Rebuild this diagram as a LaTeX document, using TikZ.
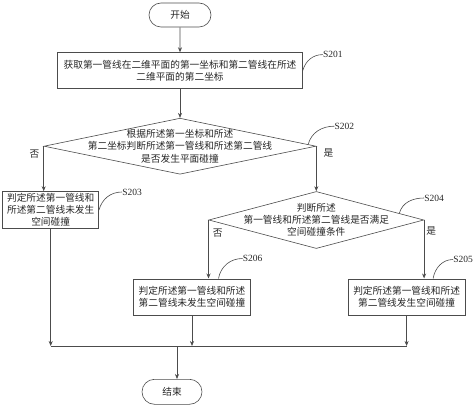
\documentclass[tikz,border=0pt]{standalone}
\usepackage{fontspec}
\setmainfont{Liberation Serif}
\newfontfamily\cjk{Noto Sans CJK SC}
\usetikzlibrary{arrows.meta, positioning, shapes.misc, shapes.geometric, calc}
\tikzset{%
	term/.style={draw=black!70, rounded rectangle, minimum width=62pt, minimum height=24pt,%
		inner sep=0pt, text=black!85, font=\cjk\fontsize{9.7}{12}\selectfont},
	proc/.style={draw=black!70, rectangle, align=center, inner sep=0pt,%
		text=black!85, font=\cjk\fontsize{9.7}{12}\selectfont},
	cond/.style={draw=black!70, diamond, inner sep=0pt},
	dtext/.style={align=center, inner sep=0pt, text=black!85, font=\cjk\fontsize{9.7}{12.3}\selectfont},
	yn/.style={inner sep=1pt, text=black!85, font=\cjk\fontsize{9.7}{12}\selectfont},
	tag/.style={inner sep=0pt, anchor=west, text=black!85, font=\fontsize{9.5}{11}\selectfont},
	tagline/.style={black!70, line width=0.6pt},
	arr/.style={-{Stealth[length=5pt,width=4pt]}, black!70, line width=0.6pt},
	connector/.style={black!70, line width=0.6pt}
}
\begin{document}
\begin{tikzpicture}[line width=0.6pt]
	\useasboundingbox (0,0) rectangle (474pt,-406pt);

	\node[term] (start) at (180pt,-15pt) {开始};
	\node[proc, minimum width=245pt, minimum height=36pt] (s201) [below=25pt of start]
		{获取第一管线在二维平面的第一坐标和第二管线在所述\\二维平面的第二坐标};
	\node[cond, minimum width=272pt, minimum height=56pt,%
		label={[dtext]center:根据所述第一坐标和所述\\第二坐标判断所述第一管线和所述第二管线\\是否发生平面碰撞}]
		(s202) [below=29pt of s201] {};
	\node[proc, minimum width=96pt, minimum height=37pt, xshift=7pt] (s203) [below=45pt of s202.west]
		{判定所述第一管线和\\所述第二管线未发生\\空间碰撞};
	\node[cond, minimum width=215pt, minimum height=57pt,%
		label={[dtext]center:判断所述\\第一管线和所述第二管线是否满足\\空间碰撞条件}]
		(s204) [below=45pt of s202.east] {};
	\node[proc, minimum width=117pt, minimum height=36pt, xshift=-16.5pt] (s206) [below=58.5pt of s204.west]
		{判定所述第一管线和所述\\第二管线未发生空间碰撞};
	\node[proc, minimum width=117pt, minimum height=36pt, xshift=-17.5pt] (s205) [below=58.5pt of s204.east]
		{判定所述第一管线和所述\\第二管线发生空间碰撞};
	\coordinate (mrg) at (177pt,-346pt);
	\node[term, minimum width=60pt, minimum height=25pt, xshift=-5pt] (end) [below=33pt of mrg] {结束};

	% yes / no
	\node[yn] (n202) [below left=2pt and 3pt of s202.west] {否};
	\node[yn] (y202) [below right=1pt and 6pt of s202.east] {是};
	\node[yn] (n204) [below right=7.5pt and 3pt of s204.west] {否};
	\node[yn] (y204) [below right=5.5pt and 1pt of s204.east] {是};

	% step tags
	\node[tag] (l201) at ($(s201.east)+(20pt,16pt)$) {S201};
	\node[tag] (l202) at ($(s202.east)+(18pt,20pt)$) {S202};
	\node[tag] (l203) at ($(s203.east)+(23pt,18pt)$) {S203};
	\node[tag] (l204) at ($(s204.east)+(0pt,22pt)$) {S204};
	\node[tag] (l206) at ($(s206.north)+(50.5pt,20pt)$) {S206};
	\node[tag] (l205) at ($(s205.north)+(46.5pt,19pt)$) {S205};

	\draw [tagline] (s201.east) to[out=75, in=180] (l201.west);
	\draw [tagline] ($(s202.east)!0.06!(s202.north)$) to[out=75, in=180] (l202.west);
	\draw [tagline] (s203.east) to[out=75, in=180] (l203.west);
	\draw [tagline] ($(s204.east)!0.23!(s204.north)$) to[out=75, in=180] (l204.west);
	\draw [tagline] ($(s206.north)+(26.5pt,0)$) to[out=80, in=180] (l206.west);
	\draw [tagline] ($(s205.north)+(26.5pt,0)$) to[out=80, in=180] (l205.west);

	% flow
	\draw [arr] (start) -- (s201);
	\draw [arr] (s201) -- (s202);
	\draw [arr] (s202.west) -- (s202.west |- s203.north);
	\draw [arr] (s202.east) -- (s202.east |- s204.north);
	\draw [arr] (s204.west) -- (s204.west |- s206.north);
	\draw [arr] (s204.east) -- (s204.east |- s205.north);
	\draw [arr] (s203) -- (s203 |- mrg);
	\draw [arr] (s206) -- (s206 |- mrg);
	\draw [arr] (s205) -- (s205 |- mrg);
	\draw [connector] (s203 |- mrg) -- (s205 |- mrg);
	\draw [arr] (mrg) -- (mrg |- end.north);
\end{tikzpicture}
\end{document}
